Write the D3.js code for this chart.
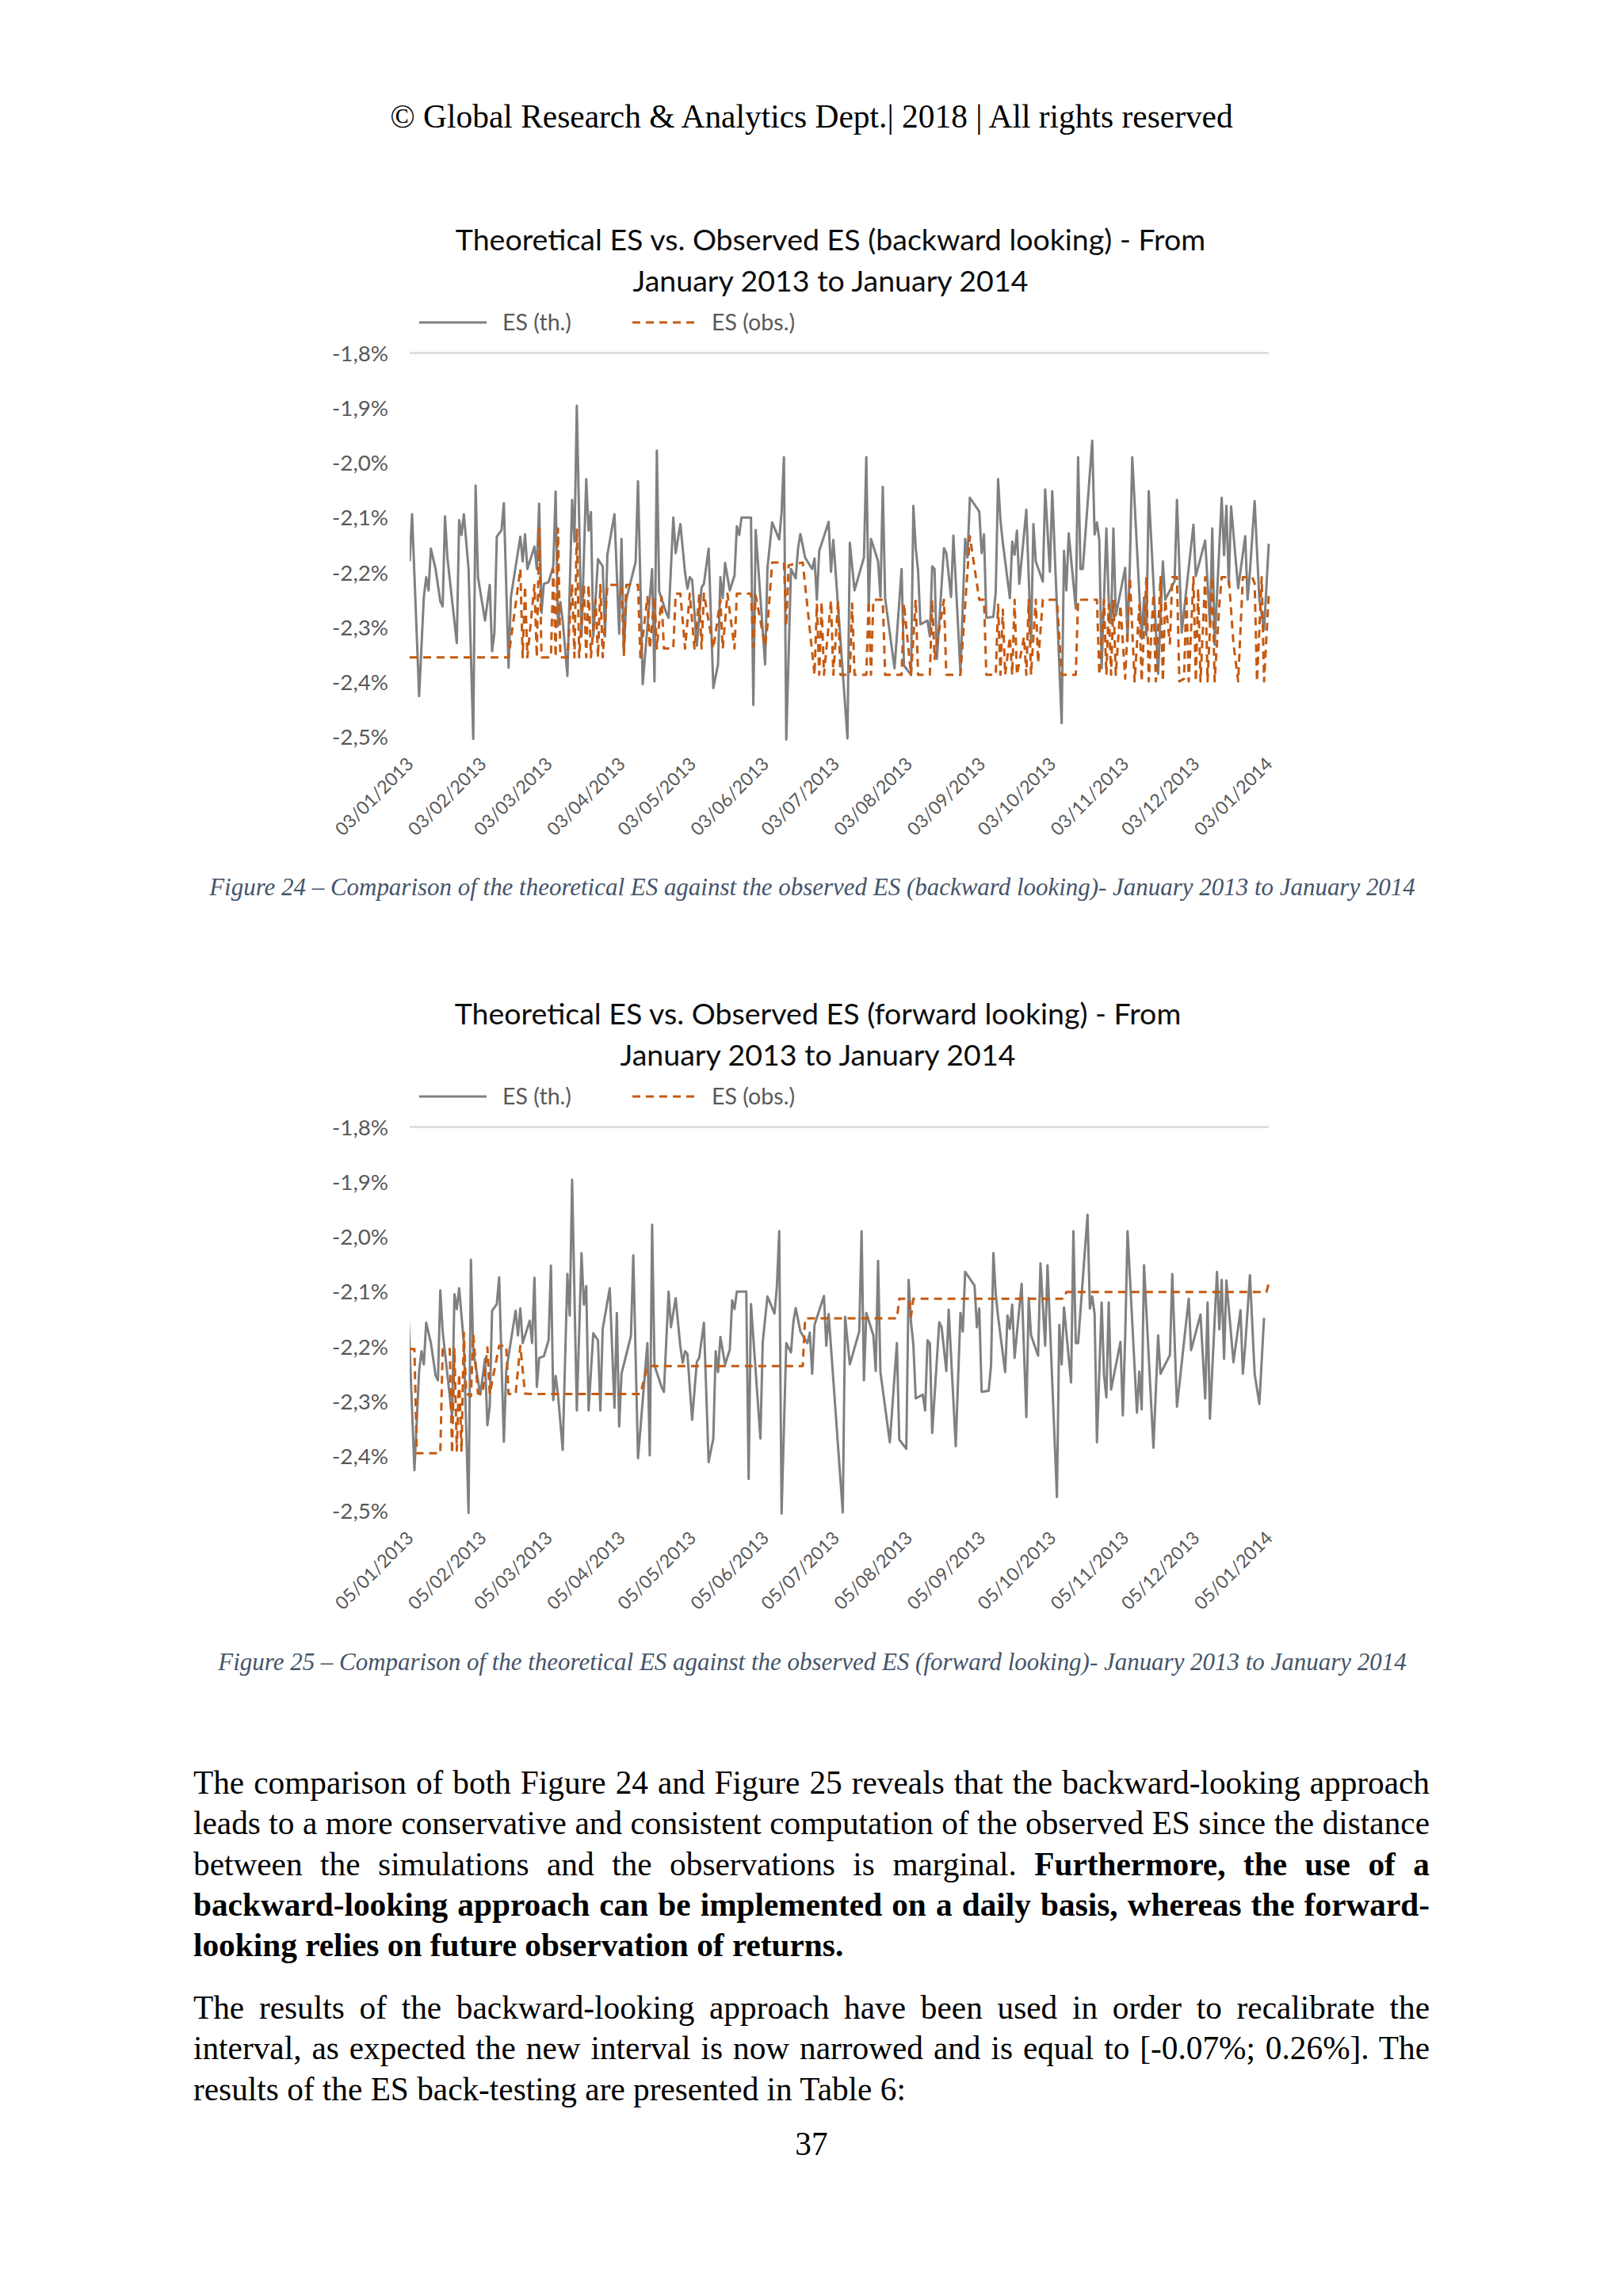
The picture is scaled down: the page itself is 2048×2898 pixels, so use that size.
<!DOCTYPE html>
<html>
<head>
<meta charset="utf-8">
<script src="https://cdn.jsdelivr.net/npm/d3@7/dist/d3.min.js"></script>
<style>
  html, body { margin:0; padding:0; background:#ffffff; }
  body { width:2048px; height:2898px; position:relative; overflow:hidden; }
  svg#page { position:absolute; left:0; top:0; }
  #bodytext { position:absolute; left:244px; top:2225px; width:1560px;
    font-family:"Liberation Serif","Times New Roman",serif; font-size:41.3px; line-height:51.3px; color:#000; }
  #bodytext .ln { text-align:justify; text-align-last:justify; }
  #bodytext .last { text-align:left; text-align-last:left; }
  #bodytext .p2 { margin-top:27.5px; }
  #bodytext b { font-weight:bold; }
</style>
</head>
<body>
<div id="bodytext">
  <div class="ln">The comparison of both Figure 24 and Figure 25 reveals that the backward-looking approach</div>
  <div class="ln">leads to a more conservative and consistent computation of the observed ES since the distance</div>
  <div class="ln">between the simulations and the observations is marginal. <b>Furthermore, the use of a</b></div>
  <div class="ln"><b>backward-looking approach can be implemented on a daily basis, whereas the forward-</b></div>
  <div class="ln last"><b>looking relies on future observation of returns.</b></div>
  <div class="ln p2">The results of the backward-looking approach have been used in order to recalibrate the</div>
  <div class="ln">interval, as expected the new interval is now narrowed and is equal to [-0.07%; 0.26%]. The</div>
  <div class="ln last">results of the ES back-testing are presented in Table 6:</div>
</div>
<script>
// ---------------- DATA ----------------
// Theoretical ES (same simulated series in both figures): [day offset from 03/01/2013, ES in %]
const thSeries = [
[0,-2.180],[1,-2.094],[4,-2.426],[6,-2.245],[7,-2.209],[8,-2.233],[9,-2.157],[11,-2.194],[13,-2.253],[14,-2.262],
[15,-2.098],[16,-2.173],[20,-2.329],[21,-2.105],[22,-2.132],[23,-2.094],[25,-2.194],[27,-2.504],[28,-2.042],[29,-2.209],
[32,-2.288],[34,-2.223],[35,-2.344],[36,-2.310],[37,-2.135],[39,-2.123],[40,-2.074],[42,-2.374],[43,-2.245],[47,-2.135],
[48,-2.180],[49,-2.131],[50,-2.194],[53,-2.153],[54,-2.194],[55,-2.075],[56,-2.274],[57,-2.221],[59,-2.218],[61,-2.189],
[62,-2.053],[63,-2.298],[64,-2.254],[65,-2.288],[67,-2.389],[69,-2.068],[70,-2.144],[71,-1.896],[73,-2.317],[75,-2.030],
[76,-2.124],[77,-2.090],[78,-2.317],[80,-2.176],[82,-2.189],[83,-2.317],[84,-2.168],[87,-2.094],[89,-2.312],[90,-2.139],
[91,-2.346],[92,-2.250],[96,-2.181],[97,-2.034],[99,-2.404],[103,-2.194],[104,-2.399],[105,-1.978],[106,-2.235],[109,-2.274],
[110,-2.283],[112,-2.100],[113,-2.165],[115,-2.112],[117,-2.201],[118,-2.230],[119,-2.209],[120,-2.214],[122,-2.334],[124,-2.228],
[125,-2.221],[127,-2.157],[129,-2.411],[131,-2.368],[132,-2.209],[133,-2.247],[134,-2.183],[136,-2.233],[138,-2.206],[139,-2.116],
[140,-2.132],[141,-2.100],[145,-2.100],[146,-2.442],[147,-2.123],[151,-2.368],[152,-2.192],[154,-2.109],[157,-2.140],[158,-2.091],
[159,-1.990],[160,-2.505],[162,-2.194],[164,-2.211],[165,-2.156],[166,-2.130],[168,-2.173],[171,-2.194],[172,-2.175],[173,-2.250],
[174,-2.161],[178,-2.108],[179,-2.199],[180,-2.141],[186,-2.503],[187,-2.146],[189,-2.233],[193,-2.173],[194,-1.990],[195,-2.262],
[196,-2.139],[199,-2.180],[200,-2.245],[201,-2.044],[202,-2.247],[206,-2.375],[209,-2.194],[210,-2.370],[213,-2.387],[214,-2.079],
[215,-2.156],[216,-2.197],[217,-2.295],[220,-2.288],[221,-2.317],[222,-2.189],[223,-2.194],[224,-2.358],[227,-2.156],[228,-2.165],
[230,-2.245],[231,-2.133],[234,-2.382],[236,-2.139],[237,-2.173],[238,-2.064],[242,-2.089],[243,-2.165],[244,-2.131],[245,-2.283],
[248,-2.281],[249,-2.235],[250,-2.030],[251,-2.105],[252,-2.146],[255,-2.247],[256,-2.144],[257,-2.168],[258,-2.124],[259,-2.221],
[262,-2.086],[264,-2.329],[265,-2.112],[266,-2.180],[269,-2.217],[270,-2.049],[272,-2.199],[273,-2.052],[277,-2.475],[278,-2.161],
[279,-2.233],[280,-2.129],[283,-2.266],[284,-1.990],[285,-2.194],[286,-2.194],[290,-1.960],[291,-2.131],[292,-2.109],[293,-2.141],
[294,-2.375],[296,-2.120],[297,-2.252],[298,-2.293],[299,-2.120],[300,-2.279],[304,-2.192],[305,-2.326],[306,-2.182],[307,-1.990],
[311,-2.321],[312,-2.246],[313,-2.315],[314,-2.052],[318,-2.385],[320,-2.180],[321,-2.250],[325,-2.216],[326,-2.068],[328,-2.310],
[333,-2.113],[334,-2.207],[338,-2.142],[340,-2.295],[341,-2.120],[342,-2.332],[345,-2.064],[346,-2.169],[347,-2.079],[348,-2.223],
[349,-2.080],[352,-2.229],[355,-2.134],[356,-2.250],[357,-2.199],[359,-2.070],[361,-2.250],[363,-2.305],[365,-2.148]
];
// Observed ES, backward looking: [day offset from 03/01/2013, ES in %]
const obsBackwardSeries = [
[0,-2.355],[42,-2.355],[47,-2.194],[48,-2.355],[49,-2.225],[50,-2.355],[53,-2.223],[54,-2.355],[55,-2.120],[56,-2.355],
[60,-2.355],[61,-2.194],[62,-2.355],[63,-2.120],[64,-2.355],[67,-2.355],[69,-2.221],[70,-2.355],[71,-2.120],[72,-2.355],
[74,-2.223],[75,-2.355],[76,-2.223],[77,-2.355],[79,-2.250],[80,-2.355],[81,-2.223],[82,-2.355],[84,-2.223],[90,-2.223],
[91,-2.351],[92,-2.223],[97,-2.223],[98,-2.355],[101,-2.245],[102,-2.339],[104,-2.245],[105,-2.339],[107,-2.245],[108,-2.339],
[112,-2.339],[113,-2.239],[115,-2.239],[117,-2.339],[119,-2.239],[121,-2.339],[123,-2.242],[124,-2.339],[125,-2.239],[129,-2.339],
[132,-2.250],[133,-2.339],[135,-2.239],[138,-2.339],[139,-2.239],[145,-2.239],[146,-2.336],[147,-2.242],[151,-2.334],[152,-2.298],
[154,-2.182],[159,-2.182],[160,-2.298],[161,-2.187],[167,-2.182],[172,-2.387],[173,-2.257],[174,-2.387],[175,-2.254],[176,-2.387],
[179,-2.252],[180,-2.387],[182,-2.252],[183,-2.387],[187,-2.387],[188,-2.257],[189,-2.387],[194,-2.387],[195,-2.252],[196,-2.387],
[197,-2.250],[201,-2.250],[202,-2.387],[209,-2.387],[210,-2.257],[213,-2.387],[215,-2.250],[216,-2.387],[221,-2.387],[222,-2.250],
[223,-2.358],[227,-2.250],[228,-2.387],[234,-2.387],[238,-2.134],[242,-2.250],[244,-2.250],[245,-2.387],[249,-2.387],[250,-2.259],
[251,-2.387],[252,-2.268],[253,-2.387],[255,-2.318],[256,-2.387],[257,-2.250],[258,-2.387],[261,-2.318],[262,-2.387],[263,-2.250],
[264,-2.387],[266,-2.250],[267,-2.365],[269,-2.250],[275,-2.250],[277,-2.387],[283,-2.387],[284,-2.250],[292,-2.250],[293,-2.387],
[295,-2.250],[296,-2.387],[297,-2.259],[298,-2.387],[299,-2.250],[300,-2.387],[302,-2.260],[304,-2.394],[306,-2.209],[308,-2.399],
[310,-2.260],[311,-2.399],[313,-2.209],[314,-2.399],[316,-2.240],[317,-2.399],[319,-2.209],[320,-2.399],[321,-2.250],[323,-2.330],
[324,-2.209],[326,-2.209],[327,-2.399],[329,-2.394],[330,-2.240],[331,-2.399],[333,-2.209],[334,-2.399],[335,-2.230],[336,-2.399],
[338,-2.209],[339,-2.399],[341,-2.209],[342,-2.399],[344,-2.260],[345,-2.209],[348,-2.209],[350,-2.330],[352,-2.399],[354,-2.209],
[358,-2.209],[359,-2.220],[360,-2.399],[362,-2.209],[363,-2.399],[365,-2.240]
];
// Observed ES, forward looking: [day offset from 05/01/2013, ES in %]
const obsForwardSeries = [
[0,-2.205],[2,-2.205],[3,-2.395],[13,-2.395],[14,-2.205],[17,-2.205],[18,-2.395],[19,-2.205],[20,-2.390],[21,-2.250],
[22,-2.392],[23,-2.175],[24,-2.286],[26,-2.291],[27,-2.178],[29,-2.286],[31,-2.286],[33,-2.202],[34,-2.287],[38,-2.199],
[41,-2.199],[42,-2.287],[45,-2.287],[47,-2.199],[49,-2.286],[52,-2.287],[98,-2.287],[101,-2.236],[167,-2.236],[168,-2.149],
[207,-2.149],[208,-2.113],[212,-2.113],[213,-2.145],[214,-2.113],[278,-2.113],[279,-2.101],[364,-2.101],[365,-2.085]
];
const thStartDate = "2013-01-03";
const yTickValues = [-2.5, -2.4, -2.3, -2.2, -2.1, -2.0, -1.9, -1.8];
const seriesNames = ["ES (th.)", "ES (obs.)"];
const chartTitles = [
  ["Theoretical ES vs. Observed ES (backward looking) - From", "January 2013 to January 2014"],
  ["Theoretical ES vs. Observed ES (forward looking) - From", "January 2013 to January 2014"]
];
const axisStartDates = ["2013-01-03", "2013-01-05"];
const captions = [
  "Figure 24 \u2013 Comparison of the theoretical ES against the observed ES (backward looking)- January 2013 to January 2014",
  "Figure 25 \u2013 Comparison of the theoretical ES against the observed ES (forward looking)- January 2013 to January 2014"
];
const headerText = "\u00A9 Global Research & Analytics Dept.| 2018 | All rights reserved";
const pageNumber = "37";

// ---------------- STYLE / LAYOUT ----------------
const SANS = "Lato, 'Noto Sans', sans-serif";
const SERIF = "'Liberation Serif', 'Times New Roman', serif";
const GRAY = "#808080", ORANGE = "#C55A11", LABEL = "#595959";
const parse = d3.timeParse("%Y-%m-%d");

const svg = d3.select("body").append("svg").attr("id", "page")
  .attr("width", 2048).attr("height", 2898);

function textWidth(str, family, weight, style) {
  const t = svg.append("text").attr("font-family", family).attr("font-size", 100)
    .attr("font-weight", weight || "normal").attr("font-style", style || "normal").text(str);
  const w = t.node().getComputedTextLength();
  t.remove();
  return w;
}
function fit(str, family, target, weight, style) {
  return 100 * target / textWidth(str, family, weight, style);
}

// header
svg.append("text").attr("x", 1024).attr("y", 161).attr("text-anchor", "middle")
  .attr("font-family", SERIF).attr("font-size", fit(headerText, SERIF, 1064)).attr("fill", "#000")
  .text(headerText);

const ySize = fit("-1,8%", SANS, 71);
const xSize = fit("03/01/2013", SANS, 128);
const legSize = fit("ES (th.)", SANS, 87);
const titleSize = fit("January 2013 to January 2014", SANS, 499);
const capSize = fit(captions[0], SERIF, 1522, "normal", "italic");

const locale = d3.formatLocale({decimal: ",", thousands: ".", grouping: [3], currency: ["", ""], minus: "-"});
const fmtNum = locale.format(".1f");
const fmtPct = v => fmtNum(v) + "%";
const fmtDate = d3.timeFormat("%d/%m/%Y");

const charts = [
  {id: 0, dy: 0, titleCx: 1048, obs: obsBackwardSeries, obsStart: "2013-01-03", capY: 1130},
  {id: 1, dy: 977, titleCx: 1032, obs: obsForwardSeries, obsStart: "2013-01-05", capY: 1131}
];

charts.forEach(cfg => {
  const g = svg.append("g").attr("transform", `translate(0,${cfg.dy})`);
  const start = parse(axisStartDates[cfg.id]);
  const end = d3.timeYear.offset(start, 1);
  const x = d3.scaleTime().domain([start, end]).range([517, 1601]);
  const y = d3.scaleLinear().domain([-2.5, -1.8]).range([930, 445.5]);

  // title
  chartTitles[cfg.id].forEach((t, i) => {
    g.append("text").attr("x", cfg.titleCx).attr("y", 303 + i * 52).attr("dy", "0.35em")
      .attr("text-anchor", "middle").attr("font-family", SANS).attr("font-size", titleSize)
      .attr("fill", "#0d0d0d").text(t);
  });

  // legend
  const legY = 407;
  g.append("line").attr("x1", 529).attr("x2", 614).attr("y1", legY).attr("y2", legY)
    .attr("stroke", GRAY).attr("stroke-width", 3);
  g.append("text").attr("x", 634).attr("y", legY).attr("dy", "0.35em").attr("font-family", SANS)
    .attr("font-size", legSize).attr("fill", LABEL).text(seriesNames[0]);
  g.append("line").attr("x1", 798).attr("x2", 882).attr("y1", legY).attr("y2", legY)
    .attr("stroke", ORANGE).attr("stroke-width", 3).attr("stroke-dasharray", "10,7");
  g.append("text").attr("x", 898).attr("y", legY).attr("dy", "0.35em").attr("font-family", SANS)
    .attr("font-size", legSize).attr("fill", LABEL).text(seriesNames[1]);

  // gridline (top)
  g.append("line").attr("x1", 517).attr("x2", 1601).attr("y1", y(-1.8)).attr("y2", y(-1.8))
    .attr("stroke", "#D9D9D9").attr("stroke-width", 2.5);

  // y axis
  const ya = g.append("g").attr("transform", "translate(517,0)")
    .call(d3.axisLeft(y).tickValues(yTickValues).tickFormat(fmtPct).tickSize(0).tickPadding(27));
  ya.select(".domain").remove();
  ya.selectAll("text").attr("font-family", SANS).attr("font-size", ySize)
    .attr("fill", LABEL).attr("dy", "0.35em");

  // x axis
  const ticks = d3.range(13).map(i => d3.timeMonth.offset(start, i));
  const xa = g.append("g").attr("transform", "translate(0,960)")
    .call(d3.axisBottom(x).tickValues(ticks).tickFormat(fmtDate).tickSize(0));
  xa.select(".domain").remove();
  xa.selectAll("text").attr("font-family", SANS).attr("font-size", xSize).attr("fill", LABEL)
    .attr("text-anchor", "end").attr("x", 0).attr("y", 0).attr("dy", "0.35em")
    .attr("transform", "rotate(-45)");

  // clip
  const clipId = "plotclip" + cfg.id;
  g.append("clipPath").attr("id", clipId).append("rect")
    .attr("x", 517).attr("y", 380).attr("width", 1086).attr("height", 600);

  const line = d3.line().x(d => x(d.date)).y(d => y(d.v));
  const thStart = parse(thStartDate);
  const thData = thSeries.map(([d, v]) => ({date: d3.timeDay.offset(thStart, d), v}));
  const obsStart = parse(cfg.obsStart);
  const obsData = cfg.obs.map(([d, v]) => ({date: d3.timeDay.offset(obsStart, d), v}));

  g.append("path").datum(thData).attr("clip-path", `url(#${clipId})`).attr("d", line)
    .attr("fill", "none").attr("stroke", GRAY).attr("stroke-width", 3).attr("stroke-linejoin", "round");
  g.append("path").datum(obsData).attr("clip-path", `url(#${clipId})`).attr("d", line)
    .attr("fill", "none").attr("stroke", ORANGE).attr("stroke-width", 3)
    .attr("stroke-dasharray", "10,7").attr("stroke-linejoin", "round");

  // caption
  svg.append("text").attr("x", 1025).attr("y", cfg.capY + cfg.dy).attr("text-anchor", "middle")
    .attr("font-family", SERIF).attr("font-style", "italic").attr("font-size", capSize)
    .attr("fill", "#44546A").text(captions[cfg.id]);
});

// page number
svg.append("text").attr("x", 1024).attr("y", 2720).attr("text-anchor", "middle")
  .attr("font-family", SERIF).attr("font-size", 41.3).attr("fill", "#000").text(pageNumber);
</script>
</body>
</html>
